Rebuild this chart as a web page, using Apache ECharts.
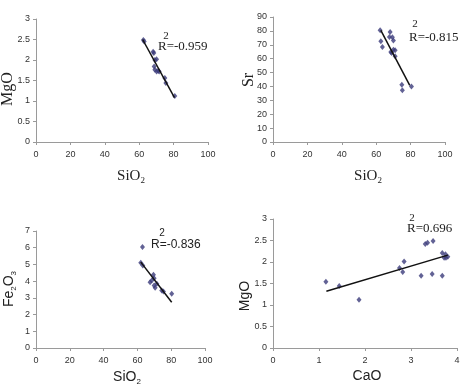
<!DOCTYPE html>
<html><head><meta charset="utf-8">
<script src="https://cdn.jsdelivr.net/npm/echarts@6/dist/echarts.min.js"></script>
<style>html,body{margin:0;padding:0;background:#fff}#c{width:474px;height:384px}</style>
</head><body><div id="c"></div>
<script>
// Panel A: SiO2 vs MgO
const sio2A = [62.4, 62.9, 68.1, 68.5, 69.1, 70.1, 68.7, 69.1, 70.1, 71.0, 71.6, 74.9, 75.5, 80.7];
const mgoA  = [2.49, 2.45, 2.20, 2.17, 2.00, 2.02, 1.84, 1.76, 1.72, 1.74, 1.72, 1.56, 1.44, 1.12];
const fitA_x = [62.0, 80.5];
const fitA_y = [2.50, 1.08];
// Panel B: SiO2 vs Sr
const sio2B = [62.3, 62.7, 63.6, 68.1, 67.7, 69.4, 70.0, 68.5, 69.0, 70.0, 71.0, 71.0, 74.9, 75.2, 80.5];
const srB   = [80.4, 72.5, 68.4, 79.2, 75.6, 75.4, 73.0, 64.8, 64.0, 66.5, 66.0, 61.7, 41.3, 37.2, 40.0];
const fitB_x = [62.7, 79.5];
const fitB_y = [80.4, 40.8];
// Panel C: SiO2 vs Fe2O3
const sio2C = [63.0, 62.0, 63.2, 69.5, 69.9, 67.5, 68.5, 69.9, 70.5, 71.5, 74.4, 75.4, 80.3];
const fe2o3C = [6.04, 5.10, 4.94, 4.38, 4.18, 3.94, 4.04, 3.74, 3.60, 3.84, 3.44, 3.38, 3.24];
const fitC_x = [62.0, 80.3];
const fitC_y = [5.14, 2.74];
// Panel D: CaO vs MgO
const caoD = [1.15, 1.44, 1.87, 2.75, 2.82, 2.85, 3.22, 3.31, 3.36, 3.48, 3.46, 3.68, 3.75, 3.68, 3.76, 3.80, 3.72];
const mgoD = [1.54, 1.44, 1.12, 1.86, 1.77, 2.01, 1.68, 2.42, 2.45, 2.49, 1.72, 2.21, 2.18, 1.68, 2.10, 2.12, 2.10];
const fitD_x = [1.16, 3.80];
const fitD_y = [1.32, 2.16];
// Tick settings
const xTicksSi = {min: 0, max: 100, interval: 20};
const xTicksCa = {min: 0, max: 4, interval: 1};
const yTicksA = {min: 0, max: 3, interval: 0.5};
const yTicksB = {min: 0, max: 90, interval: 10};
const yTicksC = {min: 0, max: 7, interval: 1};
const yTicksD = {min: 0, max: 3, interval: 0.5};
const r2Labels = ['=-0.959', '=-0.815', '=-0.836', '=0.696'];

const zip = (a, b) => a.map((v, i) => [v, b[i]]);
const axisColor = '#9a9a9a';
function xAx(t, gi) {
  return Object.assign({type: 'value', gridIndex: gi,
    axisLine: {show: true, lineStyle: {color: axisColor}},
    axisTick: {show: true, length: 3, lineStyle: {color: axisColor}},
    splitLine: {show: false},
    axisLabel: {fontFamily: 'Liberation Sans, Arial', fontSize: 9, color: '#333', margin: 8}}, t);
}
function yAx(t, gi) {
  return Object.assign({type: 'value', gridIndex: gi,
    axisLine: {show: true, lineStyle: {color: axisColor}},
    axisTick: {show: true, length: 3, lineStyle: {color: axisColor}},
    splitLine: {show: false},
    axisLabel: {fontFamily: 'Liberation Sans, Arial', fontSize: 9, color: '#333', margin: 6}}, t);
}
const markerColor = '#3b3b7a';
function scat(x, y, i) {
  return {type: 'scatter', xAxisIndex: i, yAxisIndex: i, data: zip(x, y), symbol: 'diamond', symbolSize: [5, 6],
    itemStyle: {color: markerColor}, z: 3, silent: true};
}
function fit(x, y, i) {
  return {type: 'line', xAxisIndex: i, yAxisIndex: i, data: zip(x, y), symbol: 'none',
    lineStyle: {color: '#111', width: 1.5}, z: 4, silent: true};
}
const serif = 'Liberation Serif, Times New Roman, serif';
const sans = 'Liberation Sans, Arial, sans-serif';
function label(x, y, rich, family, size, rot) {
  return {type: 'text', x: x, y: y, rotation: rot ? Math.PI / 2 : 0,
    style: {text: rich, fontFamily: family, fontSize: size, fill: '#222', align: 'center', verticalAlign: 'middle',
      rich: {n: {fontFamily: family, fontSize: size, fill: '#222', lineHeight: size + 4},
             s: {fontFamily: family, fontSize: Math.round(size * 0.6), fill: '#222', verticalAlign: 'bottom', lineHeight: 6}}}};
}
function r2(x, y, sx, sy, txt, family, size) {
  return [
    {type: 'text', x: x, y: y, style: {text: 'R' + txt, fontFamily: family, fontSize: size, fill: '#222', align: 'left', verticalAlign: 'middle'}},
    {type: 'text', x: sx, y: sy, style: {text: '2', fontFamily: family, fontSize: size - 2, fill: '#222', align: 'center', verticalAlign: 'middle'}}
  ];
}
const chart = echarts.init(document.getElementById('c'));
chart.setOption({
  animation: false,
  backgroundColor: '#fff',
  grid: [
    {left: 36, right: 266, top: 19, bottom: 242},
    {left: 273, right: 29, top: 17, bottom: 242},
    {left: 36, right: 269, top: 231, bottom: 36},
    {left: 273, right: 17, top: 219, bottom: 36}
  ],
  xAxis: [xAx(xTicksSi, 0), xAx(xTicksSi, 1), xAx(xTicksSi, 2), xAx(xTicksCa, 3)],
  yAxis: [yAx(yTicksA, 0), yAx(yTicksB, 1), yAx(yTicksC, 2), yAx(yTicksD, 3)],
  series: [
    scat(sio2A, mgoA, 0), fit(fitA_x, fitA_y, 0),
    scat(sio2B, srB, 1), fit(fitB_x, fitB_y, 1),
    scat(sio2C, fe2o3C, 2), fit(fitC_x, fitC_y, 2),
    scat(caoD, mgoD, 3), fit(fitD_x, fitD_y, 3)
  ],
  graphic: [
    label(8, 89, '{n|MgO}', serif, 16, true),
    label(131, 176, '{n|SiO}{s|2}', serif, 15, false),
    label(249, 80, '{n|Sr}', serif, 16, true),
    label(368, 176, '{n|SiO}{s|2}', serif, 15, false),
    label(9, 289, '{n|Fe}{s|2}{n|O}{s|3}', sans, 14, true),
    label(127, 377, '{n|SiO}{s|2}', sans, 14, false),
    label(245, 296, '{n|MgO}', sans, 14, true),
    label(367, 376, '{n|CaO}', sans, 14, false)
  ].concat(
    r2(158, 46.5, 166, 36.5, r2Labels[0], serif, 13),
    r2(409, 37.5, 415, 24.5, r2Labels[1], serif, 13),
    r2(151, 245, 162, 233, r2Labels[2], sans, 12),
    r2(407, 229, 412, 218, r2Labels[3], serif, 13)
  )
});
</script></body></html>
